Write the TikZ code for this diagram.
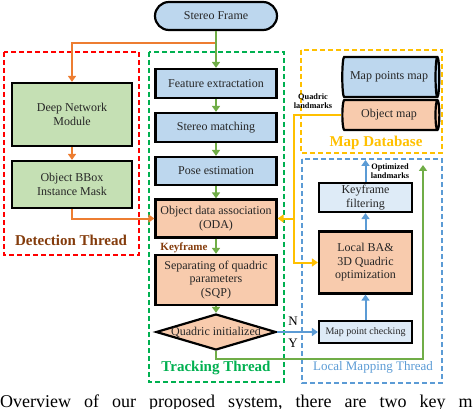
\documentclass[tikz,border=0pt]{standalone}
\usepackage{fontspec}
\setmainfont{Liberation Serif}
\usepackage{tikz}
\usetikzlibrary{arrows.meta, positioning, calc, shapes.geometric}

\definecolor{boxblue}{HTML}{BDD7EE}
\definecolor{paleblue}{HTML}{DEEBF7}
\definecolor{boxorange}{HTML}{F8CBAD}
\definecolor{boxgreen}{HTML}{C5E0B4}
\definecolor{detred}{HTML}{FF0000}
\definecolor{trkgreen}{HTML}{00B050}
\definecolor{mapyellow}{HTML}{FFC000}
\definecolor{lmblue}{HTML}{5B9BD5}
\definecolor{arrorange}{HTML}{ED7D31}
\definecolor{arrgreen}{HTML}{70AD47}
\definecolor{detbrown}{HTML}{843C0C}

\tikzset{
  box/.style={draw, line width=2.2pt, align=center, inner sep=1pt, text=black!85,
    font=\fontsize{12}{13.5}\selectfont},
  bluebox/.style={box, fill=boxblue},
  palebox/.style={box, fill=paleblue},
  orangebox/.style={box, fill=boxorange},
  greenbox/.style={box, fill=boxgreen},
  dbcyl/.style={box, cylinder, aspect=0.3, minimum height=97pt, cylinder uses custom fill},
  frame/.style={line width=2pt, dash pattern=on 5pt off 3pt},
  tip/.style={-{Triangle[length=6pt,width=8pt]}, line width=2pt},
  garrow/.style={tip, arrgreen},
  oarrow/.style={tip, arrorange},
  yarrow/.style={tip, mapyellow},
  barrow/.style={tip, lmblue},
  threadlabel/.style={font=\fontsize{15}{17}\selectfont\bfseries},
  smalllabel/.style={font=\fontsize{8.3}{9.5}\selectfont\bfseries, align=center, inner sep=0pt}
}

\begin{document}
\begin{tikzpicture}[x=1pt, y=-1pt]
  \useasboundingbox (0,0) rectangle (474,409);
  \clip (0,0) rectangle (474,409);

  % Thread frames
  \draw[frame, detred] (4,52) rectangle (139,255);
  \draw[frame, trkgreen] (149,52) rectangle (284,382);
  \draw[frame, mapyellow] (301,50) rectangle (442,153);
  \draw[frame, lmblue] (302,159) rectangle (442,383);

  % Input
  \node[bluebox, rounded corners=14pt, minimum width=122pt, minimum height=28pt] (sf) at (216,16) {Stereo Frame};

  % Detection thread
  \node[greenbox, minimum width=120pt, minimum height=63pt] (dnm) at (72,114.5) {Deep Network\\Module};
  \node[greenbox, minimum width=120pt, minimum height=47pt] (bbox) at (72,184.5) {Object BBox\\Instance Mask};
  \node[threadlabel, text=detbrown] (dt) at (71,240) {Detection Thread};

  % Tracking thread
  \node[bluebox, minimum width=121pt, minimum height=29pt] (fe) at (216,83.5) {Feature extractation};
  \node[bluebox, minimum width=121pt, minimum height=29pt] (sm) at (216,127.5) {Stereo matching};
  \node[bluebox, minimum width=121pt, minimum height=28pt] (pe) at (216,171) {Pose estimation};
  \node[orangebox, minimum width=121pt, minimum height=38pt] (oda) at (216,218.5) {Object data association\\(ODA)};
  \node[orangebox, minimum width=121pt, minimum height=50pt] (sqp) at (216,280) {Separating of quadric\\parameters\\(SQP)};
  \node[box, diamond, fill=boxorange, minimum width=120pt, minimum height=36pt, inner sep=0pt] (qi) at (216,332) {};
  \node[font=\fontsize{12}{13}\selectfont, text=black!85] (qit) at (qi) {Quadric initialized};
  \node[font=\fontsize{11}{12}\selectfont\bfseries, text=detbrown, inner sep=0pt] (kfl) at (184,248) {Keyframe};
  \node[threadlabel, text=trkgreen] (tt) at (216,368) {Tracking Thread};

  % Map database
  \node[dbcyl, minimum width=40pt, cylinder body fill=boxblue, cylinder end fill=boxblue] (mpm) at (389,77) {Map points map};
  \node[dbcyl, minimum width=30pt, cylinder body fill=boxorange, cylinder end fill=boxorange] (om) at (389,115) {Object map};
  \node[threadlabel, text=mapyellow] (mdb) at (376,143) {Map Database};
  \node[smalllabel] (ql) at (313,101) {Quadric\\landmarks};

  % Local mapping thread
  \node[palebox, minimum width=93pt, minimum height=29pt] (kf) at (365.5,197.5) {Keyframe\\filtering};
  \node[orangebox, minimum width=93pt, minimum height=62pt] (lba) at (365.5,262.5) {Local BA\&\\3D Quadric\\optimization};
  \node[palebox, minimum width=93pt, minimum height=22pt, font=\fontsize{10}{11}\selectfont] (mpc) at (365.5,332) {Map point checking};
  \node[smalllabel] (opl) at (390,171) {Optimized\\landmarks};
  \node[font=\fontsize{13}{15}\selectfont, text=lmblue] (lmt) at (373,367) {Local Mapping Thread};
  \node[font=\fontsize{13}{14}\selectfont] (nlab) at (293,321) {N};
  \node[font=\fontsize{13}{14}\selectfont] (ylab) at (293,343) {Y};

  % Helper points
  \coordinate (fork) at (216,43);
  \coordinate (ybend) at (294,262.5);
  \coordinate (gtop) at (423,165);

  % Detection arrows
  \draw[oarrow] (fork) -| (dnm.north);
  \draw[oarrow] (dnm) -- (bbox);
  \draw[oarrow] (bbox.south) |- (oda.west);

  % Tracking arrows
  \draw[garrow] (sf) -- (fe);
  \draw[garrow] (fe) -- (sm);
  \draw[garrow] (sm) -- (pe);
  \draw[garrow] (pe) -- (oda);
  \draw[garrow] (oda) -- (sqp);
  \draw[garrow] (sqp.south) -- (qi.north);
  \draw[garrow] (qi.south) -- ++(0,8) -| (gtop);

  % Quadric landmarks
  \draw[yarrow] (om.west) -| (ybend) -- (lba.west);
  \draw[yarrow] (ybend |- oda.east) -- (oda.east);

  % Local mapping arrows
  \draw[barrow] (qi.east) -- (mpc.west);
  \draw[barrow] (mpc) -- (lba);
  \draw[barrow] (lba) -- (kf);
  \draw[barrow] (kf.north) -- ++(0,-22);

  % Caption (cut off)
  \node[anchor=base west, inner sep=0pt, font=\fontsize{18}{20}\selectfont] (cap) at (0,407)
    {\spaceskip=13pt Overview of our proposed system, there are two key m};
\end{tikzpicture}
\end{document}
